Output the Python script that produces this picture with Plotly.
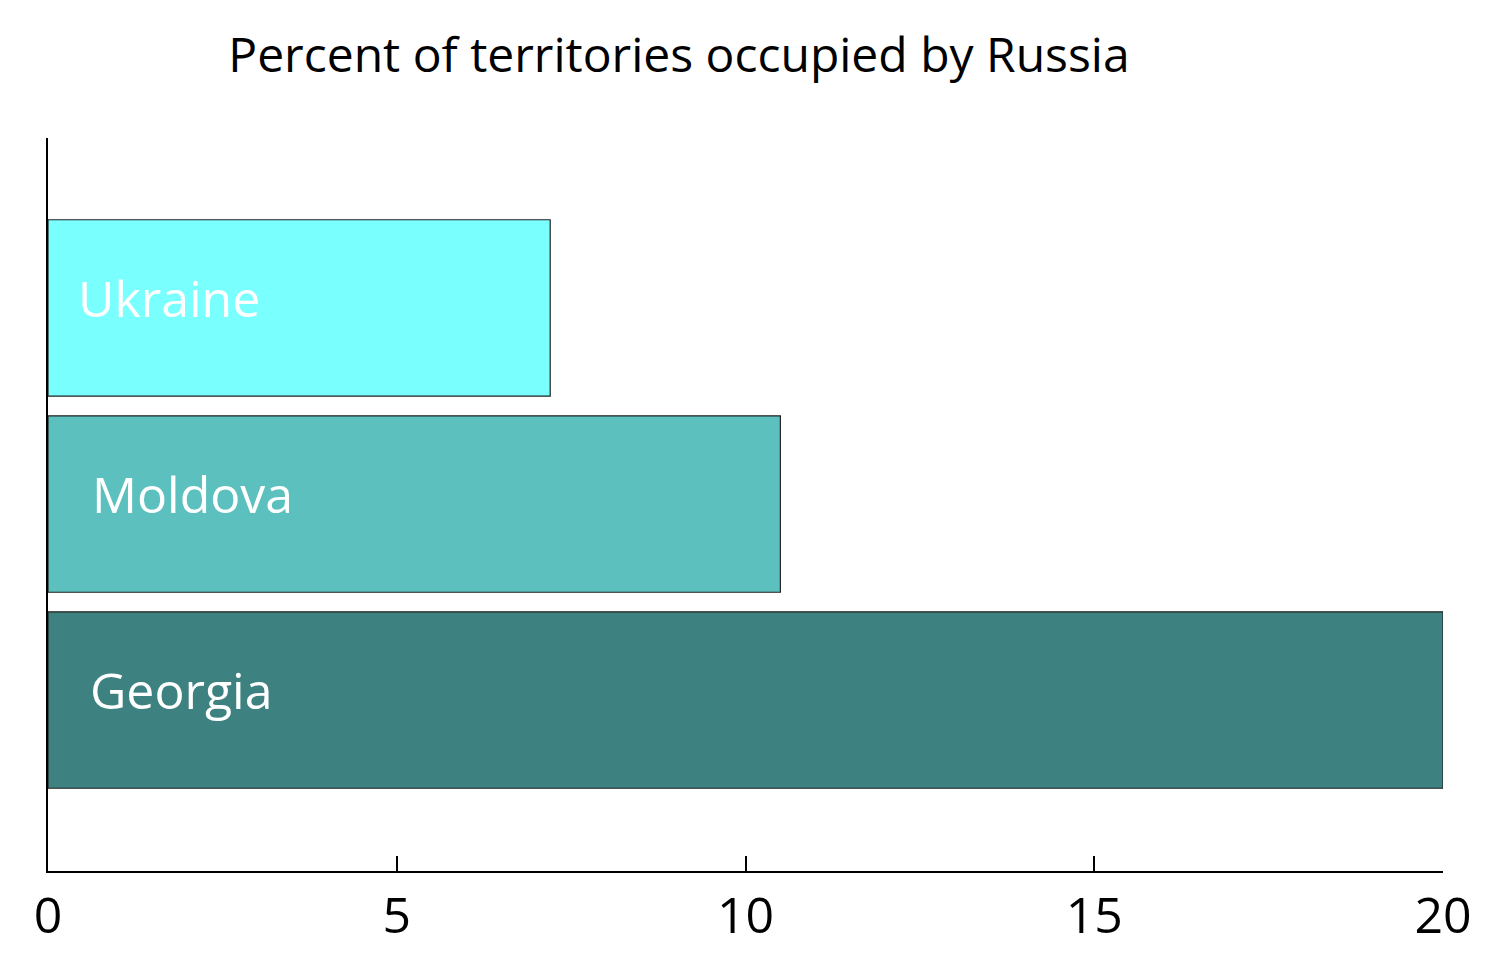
import plotly.graph_objects as go

countries = ["Georgia", "Moldova", "Ukraine"]
percent = [20, 10.5, 7.2]
colors = ["#3d8280", "#5cc0bf", "#7affff"]
label_shift = [40, 42, 28]
ticks = [0, 5, 10, 15, 20]

pos = list(range(len(countries)))

fig = go.Figure(go.Bar(
    x=percent, y=pos, orientation="h", width=0.9,
    marker=dict(color=colors, line=dict(color="#222", width=1.2)),
    hoverinfo="skip",
))

for p, name, s in zip(pos, countries, label_shift):
    fig.add_annotation(x=0, y=p, text=name, showarrow=False, xanchor="left",
                       xshift=s, yshift=10, font=dict(size=50, color="white"))

fig.update_layout(
    width=1501, height=953,
    margin=dict(l=40, r=66, t=130, b=90),
    plot_bgcolor="white", paper_bgcolor="white",
    font=dict(family="Open Sans", color="black"),
    showlegend=False,
    title=dict(text="Percent of territories occupied by Russia", x=0.447, xanchor="center",
               y=0.95, yanchor="middle", font=dict(size=48)),
    xaxis=dict(range=[0, 20], tickvals=ticks, showgrid=False, zeroline=False,
               showline=True, linecolor="black", linewidth=2,
               ticks="inside", ticklen=15, tickwidth=2, tickcolor="black",
               tickfont=dict(size=50)),
    yaxis=dict(range=[-0.872, 2.867], showticklabels=False, showgrid=False,
               zeroline=False, showline=True, linecolor="black", linewidth=2),
)

fig.write_html("out.html")
